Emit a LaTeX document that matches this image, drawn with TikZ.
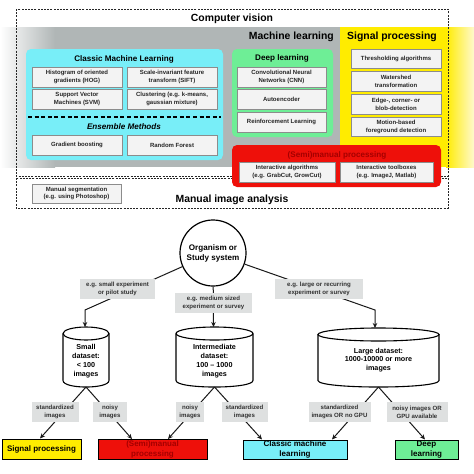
\documentclass[tikz,border=0pt]{standalone}
\usepackage{fontspec}
\setmainfont{Liberation Sans}
\usetikzlibrary{arrows.meta}
\definecolor{mlgray}{RGB}{176,182,182}
\definecolor{spyel}{RGB}{255,236,0}
\definecolor{spyelpale}{RGB}{255,250,205}
\definecolor{cmlcyan}{RGB}{120,238,248}
\definecolor{dlgreen}{RGB}{110,238,150}
\definecolor{semired}{RGB}{238,16,10}
\definecolor{darkred}{RGB}{165,0,0}
\definecolor{iboxfill}{RGB}{243,243,243}
\definecolor{iboxdraw}{RGB}{140,140,140}
\definecolor{lblfill}{RGB}{222,224,224}
\definecolor{lbltext}{RGB}{50,50,50}
\newcommand\fsz[2]{\fontsize{#1pt}{#2pt}\selectfont\bfseries}
\begin{document}
\begin{tikzpicture}[x=1pt,y=-1pt,
  ibox/.style={draw=iboxdraw, fill=iboxfill, line width=0.7pt, align=center, inner sep=0pt, font=\fsz{6}{7.6}, text=black!85},
  bigtitle/.style={inner sep=0pt, font=\fsz{10.4}{11}},
  subtitle/.style={inner sep=0pt, font=\fsz{8.1}{9}},
  lbl/.style={fill=lblfill, align=center, inner sep=0pt, font=\fsz{6.1}{7.8}, text=lbltext},
  cyltext/.style={align=center, inner sep=0pt, font=\fsz{7.2}{8.8}},
  flow/.style={line width=1pt, draw=black!90},
  arr/.style={flow, -{Stealth[length=5pt,width=4.5pt]}},
  outbox/.style={draw=black, line width=1pt, align=center, inner sep=0pt, font=\fsz{8}{9.6}},
  dashbox/.style={draw=black!85, line width=0.8pt, dash pattern=on 2pt off 1.2pt},
  panel/.style={rounded corners=5pt}]
\useasboundingbox (0,0) rectangle (474,474);
\fill[white] (0,0) rectangle (474,474);
% background bands
\shade[left color=white, right color=mlgray] (0,27) rectangle (55,167);
\fill[mlgray] (54.5,27) rectangle (340,167);
\fill[spyel] (340,27) rectangle (446.5,167);
\shade[left color=spyel, right color=spyelpale] (446,27) rectangle (474,167);
% dashed boxes
\draw[dashbox] (16,9) rectangle (448,176);
\draw[dashbox] (16,178) rectangle (448,208);
\node[bigtitle] (cvt) at (232,19) {Computer vision};
\node[bigtitle, anchor=east] (mlt) at (334,37) {Machine learning};
\node[bigtitle] (spt) at (392,37) {Signal processing};
\node[bigtitle] (mat) at (232,200) {Manual image analysis};
% classic ML panel
\fill[cmlcyan, panel] (26,49) rectangle (223,160);
\node[subtitle] (cmlt) at (124,59) {Classic Machine Learning};
\node[ibox, minimum width=90pt, minimum height=20pt] (hog) at (77,77) {Histogram of oriented\\gradients (HOG)};
\node[ibox, minimum width=90pt, minimum height=20pt] (sift) at (172,77) {Scale-invariant feature\\transform (SIFT)};
\node[ibox, minimum width=90pt, minimum height=20pt] (svm) at (77,99) {Support Vector\\Machines (SVM)};
\node[ibox, minimum width=90pt, minimum height=20pt] (clus) at (172,99) {Clustering (e.g. k-means,\\gaussian mixture)};
\draw[line width=1.1pt, dash pattern=on 4pt off 2.6pt] (28,117) -- (221,117);
\node[subtitle, font=\fsz{8.1}{9}\itshape] (ens) at (124,127) {Ensemble Methods};
\node[ibox, minimum width=90pt, minimum height=20pt] (gb) at (77,145) {Gradient boosting};
\node[ibox, minimum width=90pt, minimum height=20pt] (rf) at (172,145) {Random Forest};
% deep learning panel
\fill[dlgreen, panel] (232,49) rectangle (333,137);
\node[subtitle] (dlt) at (282,58) {Deep learning};
\node[ibox, minimum width=89pt, minimum height=20pt] (cnn) at (281.5,77) {Convolutional Neural\\Networks (CNN)};
\node[ibox, minimum width=89pt, minimum height=20pt] (ae) at (281.5,99) {Autoencoder};
\node[ibox, minimum width=89pt, minimum height=20pt] (rl) at (281.5,122) {Reinforcement Learning};
% signal processing boxes
\node[ibox, minimum width=90pt, minimum height=19.5pt] (thr) at (396,59) {Thresholding algorithms};
\node[ibox, minimum width=90pt, minimum height=19.5pt] (ws) at (396,81.5) {Watershed\\transformation};
\node[ibox, minimum width=90pt, minimum height=19.5pt] (edge) at (396,104.5) {Edge-, corner- or\\blob-detection};
\node[ibox, minimum width=90pt, minimum height=19.5pt] (mot) at (396,127) {Motion-based\\foreground detection};
% semi manual panel
\fill[semired, panel] (232,145) rectangle (441,187);
\node[subtitle, text=darkred] (smt) at (337,155) {(Semi)manual processing};
\node[ibox, minimum width=96pt, minimum height=20pt] (ia) at (287,172) {Interactive algorithms\\(e.g. GrabCut, GrowCut)};
\node[ibox, minimum width=93pt, minimum height=20pt] (itb) at (386.5,172) {Interactive toolboxes\\(e.g. ImageJ, Matlab)};
\node[ibox, minimum width=89pt, minimum height=19pt] (mseg) at (76.5,193.5) {Manual segmentation\\(e.g. using Photoshop)};
% ---------------- flowchart ----------------
\node[circle, draw, line width=1.2pt, minimum size=66pt, inner sep=0pt, align=center, font=\fsz{8.1}{10}, fill=white] (org) at (213,253) {Organism or\\Study system};
% cylinders
\draw[line width=1.1pt, fill=white] (63,333.5) -- (63,380.5) .. controls (63,389.2) and (109,389.2) .. (109,380.5) -- (109,333.5);
\draw[line width=1.1pt] (86,333.5) ellipse [x radius=23pt, y radius=6.5pt];
\draw[line width=1.1pt, fill=white] (176,333.5) -- (176,380.5) .. controls (176,389.2) and (253,389.2) .. (253,380.5) -- (253,333.5);
\draw[line width=1.1pt] (214.5,333.5) ellipse [x radius=38.5pt, y radius=6.5pt];
\draw[line width=1.1pt, fill=white] (318,334.5) -- (318,380.5) .. controls (318,389.2) and (439,389.2) .. (439,380.5) -- (439,334.5);
\draw[line width=1.1pt] (378.5,334.5) ellipse [x radius=60.5pt, y radius=6.5pt];
\node[cyltext] (smallds) at (86,361) {Small\\dataset:\\< 100\\images};
\node[cyltext] (midds) at (214.5,361) {Intermediate\\dataset:\\100 – 1000\\images};
\node[cyltext] (largeds) at (378.5,360) {Large dataset:\\1000-10000 or more\\images};
\coordinate (sTop) at (85,327);
\coordinate (mTop) at (213.5,327);
\coordinate (lTop) at (375,328);
\coordinate (bendL) at (85,310);
\coordinate (bendR) at (375,310);
\coordinate (sApex) at (86,387);
\coordinate (mApex) at (214.5,387);
\coordinate (lApex) at (378.5,387);
\draw[arr] (org) -- (bendL) -- (sTop);
\draw[arr] (org) -- (mTop);
\draw[arr] (org) -- (bendR) -- (lTop);
\node[lbl, minimum width=75pt, minimum height=20pt] (lblS) at (117.5,289) {e.g. small experiment\\or pilot study};
\node[lbl, minimum width=77pt, minimum height=20pt] (lblM) at (213.5,303) {e.g. medium sized\\experiment or survey};
\node[lbl, minimum width=88pt, minimum height=20pt] (lblL) at (319,289) {e.g. large or recurring\\experiment or survey};
% output boxes
\node[outbox, fill=spyel, minimum width=79pt, minimum height=20pt] (sigB) at (41.5,449) {Signal processing};
\node[outbox, fill=semired, text=darkred, minimum width=109pt, minimum height=20pt] (semiB) at (152.5,449.5) {(Semi)manual\\processing};
\node[outbox, fill=cmlcyan, minimum width=104pt, minimum height=19pt] (cmlB) at (295,449.5) {Classic machine\\learning};
\node[outbox, fill=dlgreen, minimum width=63pt, minimum height=19pt] (dlB) at (426.5,449.5) {Deep\\learning};
\coordinate (t1) at (40,438.5);
\coordinate (t2) at (132,439);
\coordinate (t3) at (168,439);
\coordinate (t4) at (262,439.5);
\coordinate (t5) at (332,439.5);
\coordinate (t6) at (425,439.5);
\draw[arr] (sApex) -- (t1);
\draw[arr] (sApex) -- (t2);
\draw[arr] (mApex) -- (t3);
\draw[arr] (mApex) -- (t4);
\draw[arr] (lApex) -- (t5);
\draw[arr] (lApex) -- (t6);
\node[lbl, minimum width=47pt, minimum height=20pt] (l1) at (55,412) {standardized\\images};
\node[lbl, minimum width=34pt, minimum height=20pt] (l2) at (110,412) {noisy\\images};
\node[lbl, minimum width=28pt, minimum height=20pt] (l3) at (190,412) {noisy\\images};
\node[lbl, minimum width=46pt, minimum height=20pt] (l4) at (244.5,412) {standardized\\images};
\node[lbl, minimum width=62pt, minimum height=20pt] (l5) at (339.5,412) {standardized\\images OR no GPU};
\node[lbl, minimum width=61pt, minimum height=20pt] (l6) at (417,412) {noisy images OR\\GPU available};
\end{tikzpicture}
\end{document}
